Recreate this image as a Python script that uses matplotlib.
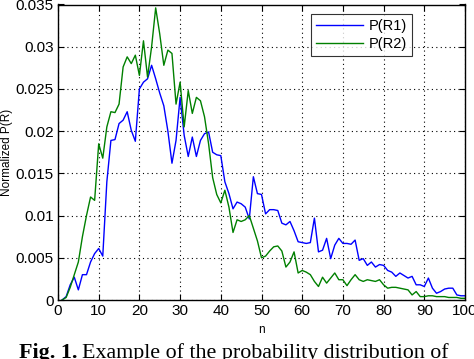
import matplotlib
matplotlib.use("Agg")
import matplotlib.pyplot as plt
import numpy as np

n = list(range(1, 101))

p_r1 = [0.0000, 0.0004, 0.0018, 0.0027, 0.0012, 0.0030, 0.0030, 0.0045, 0.0055, 0.0061,
        0.0052, 0.0140, 0.0189, 0.0190, 0.0209, 0.0213, 0.0223, 0.0201, 0.0188, 0.0250,
        0.0258, 0.0262, 0.0278, 0.0262, 0.0245, 0.0230, 0.0200, 0.0162, 0.0189, 0.0240,
        0.0195, 0.0170, 0.0193, 0.0170, 0.0189, 0.0197, 0.0199, 0.0175, 0.0172, 0.0171,
        0.0140, 0.0126, 0.0108, 0.0116, 0.0114, 0.0110, 0.0096, 0.0146, 0.0126, 0.0125,
        0.0102, 0.0107, 0.0107, 0.0106, 0.0091, 0.0089, 0.0093, 0.0082, 0.0069, 0.0068,
        0.0067, 0.0068, 0.0097, 0.0057, 0.0059, 0.0073, 0.0049, 0.0065, 0.0073, 0.0067,
        0.0067, 0.0066, 0.0071, 0.0047, 0.0049, 0.0041, 0.0045, 0.0039, 0.0042, 0.0041,
        0.0035, 0.0033, 0.0028, 0.0032, 0.0029, 0.0026, 0.0028, 0.0018, 0.0018, 0.0016,
        0.0026, 0.0014, 0.0008, 0.0010, 0.0013, 0.0014, 0.0014, 0.0006, 0.0005, 0.0005]

p_r2 = [0.0000, 0.0003, 0.0015, 0.0030, 0.0045, 0.0075, 0.0100, 0.0122, 0.0118, 0.0185,
        0.0168, 0.0205, 0.0223, 0.0222, 0.0232, 0.0276, 0.0288, 0.0280, 0.0290, 0.0266,
        0.0307, 0.0264, 0.0300, 0.0346, 0.0315, 0.0278, 0.0296, 0.0292, 0.0232, 0.0258,
        0.0205, 0.0248, 0.0221, 0.0240, 0.0236, 0.0217, 0.0185, 0.0145, 0.0125, 0.0115,
        0.0130, 0.0110, 0.0080, 0.0095, 0.0093, 0.0095, 0.0100, 0.0085, 0.0070, 0.0050,
        0.0052, 0.0058, 0.0063, 0.0064, 0.0058, 0.0039, 0.0045, 0.0057, 0.0032, 0.0035,
        0.0033, 0.0030, 0.0022, 0.0016, 0.0027, 0.0020, 0.0026, 0.0032, 0.0024, 0.0024,
        0.0017, 0.0024, 0.0030, 0.0024, 0.0022, 0.0024, 0.0023, 0.0022, 0.0024, 0.0018,
        0.0014, 0.0015, 0.0015, 0.0014, 0.0013, 0.0012, 0.0006, 0.0010, 0.0004, 0.0004,
        0.0005, 0.0005, 0.0004, 0.0004, 0.0004, 0.0003, 0.0003, 0.0003, 0.0002, 0.0002]

x_ticks = [0, 10, 20, 30, 40, 50, 60, 70, 80, 90, 100]
y_ticks = [0, 0.005, 0.01, 0.015, 0.02, 0.025, 0.03, 0.035]
y_tick_labels = ["0", "0.005", "0.01", "0.015", "0.02", "0.025", "0.03", "0.035"]

plt.rcParams['font.family'] = ['Liberation Sans', 'DejaVu Sans']

W, H = 474, 359
fig = plt.figure(figsize=(W / 100, H / 100), dpi=100)
ax = fig.add_axes([58 / W, (H - 300) / H, (465 - 58) / W, (300 - 4.5) / H])

ax.plot(n, p_r1, color=(0, 0, 1), lw=1.0, label="P(R1)")
ax.plot(n, p_r2, color=(0, 0.5, 0), lw=1.0, label="P(R2)")

ax.set_xlim(0, 100)
ax.set_ylim(0, 0.035)
ax.set_xticks(x_ticks)
ax.set_xticklabels([str(t) for t in x_ticks])
ax.set_yticks(y_ticks)
ax.set_yticklabels(y_tick_labels)
ax.tick_params(direction='in', length=4, width=0.8, top=True, right=True,
               labelsize=11, colors='black', pad=3)
ax.grid(True, linestyle=(0, (1, 3)), color='black', linewidth=0.8)
for s in ax.spines.values():
    s.set_linewidth(1.0)

ax.set_xlabel("n", fontsize=8.5, labelpad=4)
ax.set_ylabel("Normalized P(R)", fontsize=8.5, labelpad=2)

leg = ax.legend(loc='upper right', bbox_to_anchor=((412 - 58) / (465 - 58), 1 - (14 - 4.5) / (300 - 4.5)),
                fontsize=10.5, frameon=True, fancybox=False, edgecolor='black',
                handlelength=3.2, handletextpad=0.4, borderpad=0.35, labelspacing=0.25,
                borderaxespad=0)
leg.get_frame().set_linewidth(0.8)

cap_y = (H - 358) / H
t1 = fig.text(19 / W, cap_y, "Fig. 1.", fontsize=15.8, family='Liberation Serif',
              weight='bold', ha='left', va='baseline')
fig.canvas.draw()
bb = t1.get_window_extent()
fig.text(bb.x1 / W + 4 / W, cap_y, "Example of the probability distribution of",
         fontsize=15.8, family='Liberation Serif', ha='left', va='baseline')

fig.savefig("out.png", dpi=100)
